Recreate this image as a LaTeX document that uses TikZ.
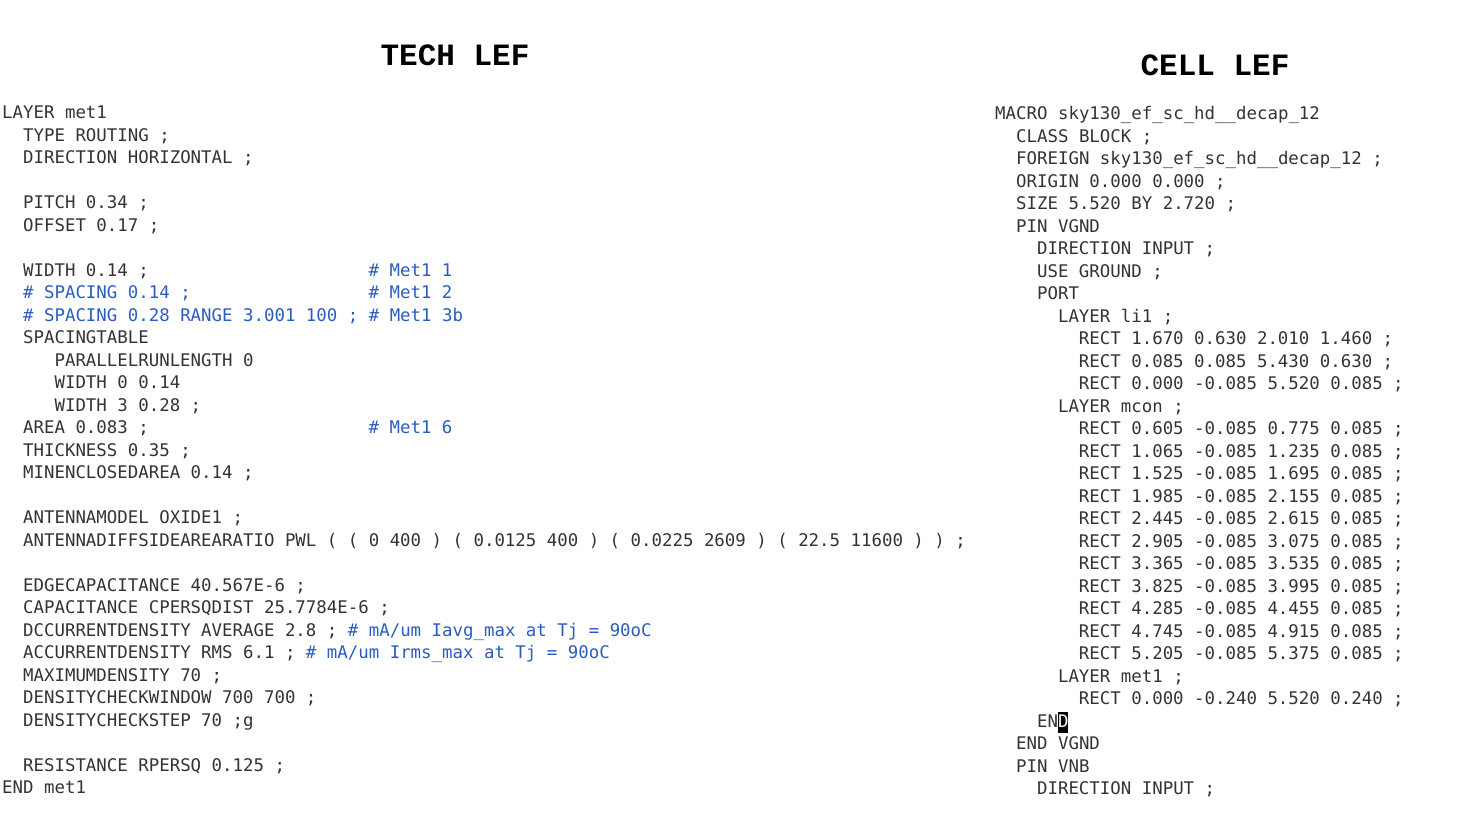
\documentclass[tikz,border=0pt]{standalone}
\usepackage{fontspec}
\newfontfamily\codefont{DejaVu Sans Mono}
\newfontfamily\titlefont{Liberation Mono}
\definecolor{codegray}{HTML}{333333}
\definecolor{cmtblue}{HTML}{2A5CC0}
\newcommand{\cm}[1]{\textcolor{cmtblue}{#1}}
\newcommand{\LL}[4]{\node[code] (#1) at ({2+10.47*#2},{-(118.5+22.5*#3)}) {#4};}
\newcommand{\RL}[4]{\node[code] (#1) at ({995+10.47*#2},{-(119.5+22.5*#3)}) {#4};}
\begin{document}
\begin{tikzpicture}[x=1pt,y=1pt,
  code/.style={anchor=base west,inner sep=0pt,font=\codefont\fontsize{17.4}{22.5}\selectfont,text=codegray},
  ttl/.style={inner sep=0pt,font=\titlefont\bfseries\fontsize{31}{31}\selectfont,text=black}]
\useasboundingbox (0,0) rectangle (1470,-838);
\node[ttl] (t1) at (455,-55) {TECH LEF};
\node[ttl] (t2) at (1215,-65) {CELL LEF};
\LL{a0}{0}{0}{LAYER met1}
\LL{a1}{2}{1}{TYPE ROUTING ;}
\LL{a2}{2}{2}{DIRECTION HORIZONTAL ;}
\LL{a4}{2}{4}{PITCH 0.34 ;}
\LL{a5}{2}{5}{OFFSET 0.17 ;}
\LL{a7}{2}{7}{WIDTH 0.14 ;}
\LL{c7}{35}{7}{\cm{\# Met1 1}}
\LL{a8}{2}{8}{\cm{\# SPACING 0.14 ;}}
\LL{c8}{35}{8}{\cm{\# Met1 2}}
\LL{a9}{2}{9}{\cm{\# SPACING 0.28 RANGE 3.001 100 ; \# Met1 3b}}
\LL{a10}{2}{10}{SPACINGTABLE}
\LL{a11}{5}{11}{PARALLELRUNLENGTH 0}
\LL{a12}{5}{12}{WIDTH 0 0.14}
\LL{a13}{5}{13}{WIDTH 3 0.28 ;}
\LL{a14}{2}{14}{AREA 0.083 ;}
\LL{c14}{35}{14}{\cm{\# Met1 6}}
\LL{a15}{2}{15}{THICKNESS 0.35 ;}
\LL{a16}{2}{16}{MINENCLOSEDAREA 0.14 ;}
\LL{a18}{2}{18}{ANTENNAMODEL OXIDE1 ;}
\LL{a19}{2}{19}{ANTENNADIFFSIDEAREARATIO PWL ( ( 0 400 ) ( 0.0125 400 ) ( 0.0225 2609 ) ( 22.5 11600 ) ) ;}
\LL{a21}{2}{21}{EDGECAPACITANCE 40.567E-6 ;}
\LL{a22}{2}{22}{CAPACITANCE CPERSQDIST 25.7784E-6 ;}
\LL{a23}{2}{23}{DCCURRENTDENSITY AVERAGE 2.8 ; \cm{\# mA/um Iavg\_max at Tj = 90oC}}
\LL{a24}{2}{24}{ACCURRENTDENSITY RMS 6.1 ; \cm{\# mA/um Irms\_max at Tj = 90oC}}
\LL{a25}{2}{25}{MAXIMUMDENSITY 70 ;}
\LL{a26}{2}{26}{DENSITYCHECKWINDOW 700 700 ;}
\LL{a27}{2}{27}{DENSITYCHECKSTEP 70 ;g}
\LL{a29}{2}{29}{RESISTANCE RPERSQ 0.125 ;}
\LL{a30}{0}{30}{END met1}
\RL{b0}{0}{0}{MACRO sky130\_ef\_sc\_hd\_\_decap\_12}
\RL{b1}{2}{1}{CLASS BLOCK ;}
\RL{b2}{2}{2}{FOREIGN sky130\_ef\_sc\_hd\_\_decap\_12 ;}
\RL{b3}{2}{3}{ORIGIN 0.000 0.000 ;}
\RL{b4}{2}{4}{SIZE 5.520 BY 2.720 ;}
\RL{b5}{2}{5}{PIN VGND}
\RL{b6}{4}{6}{DIRECTION INPUT ;}
\RL{b7}{4}{7}{USE GROUND ;}
\RL{b8}{4}{8}{PORT}
\RL{b9}{6}{9}{LAYER li1 ;}
\RL{b10}{8}{10}{RECT 1.670 0.630 2.010 1.460 ;}
\RL{b11}{8}{11}{RECT 0.085 0.085 5.430 0.630 ;}
\RL{b12}{8}{12}{RECT 0.000 -0.085 5.520 0.085 ;}
\RL{b13}{6}{13}{LAYER mcon ;}
\RL{b14}{8}{14}{RECT 0.605 -0.085 0.775 0.085 ;}
\RL{b15}{8}{15}{RECT 1.065 -0.085 1.235 0.085 ;}
\RL{b16}{8}{16}{RECT 1.525 -0.085 1.695 0.085 ;}
\RL{b17}{8}{17}{RECT 1.985 -0.085 2.155 0.085 ;}
\RL{b18}{8}{18}{RECT 2.445 -0.085 2.615 0.085 ;}
\RL{b19}{8}{19}{RECT 2.905 -0.085 3.075 0.085 ;}
\RL{b20}{8}{20}{RECT 3.365 -0.085 3.535 0.085 ;}
\RL{b21}{8}{21}{RECT 3.825 -0.085 3.995 0.085 ;}
\RL{b22}{8}{22}{RECT 4.285 -0.085 4.455 0.085 ;}
\RL{b23}{8}{23}{RECT 4.745 -0.085 4.915 0.085 ;}
\RL{b24}{8}{24}{RECT 5.205 -0.085 5.375 0.085 ;}
\RL{b25}{6}{25}{LAYER met1 ;}
\RL{b26}{8}{26}{RECT 0.000 -0.240 5.520 0.240 ;}
\RL{b27}{4}{27}{EN}
\fill[black] ({995+10.47*6},{-(119.5+22.5*27)-6}) rectangle ++(10.47,21);
\RL{b27d}{6}{27}{\textcolor{white}{D}}
\RL{b28}{2}{28}{END VGND}
\RL{b29}{2}{29}{PIN VNB}
\RL{b30}{4}{30}{DIRECTION INPUT ;}
\end{tikzpicture}
\end{document}
